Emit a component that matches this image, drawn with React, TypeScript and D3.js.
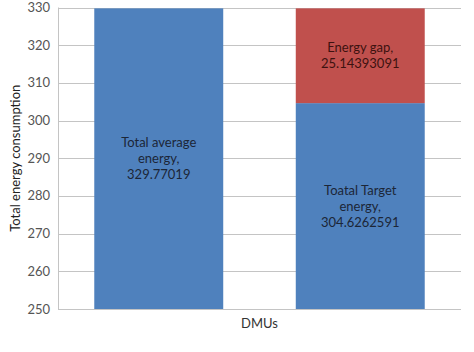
import React, { useEffect, useRef } from 'react';
import * as d3 from 'd3';

// values
const categories = ['Average', 'Target'];
const segmentNames = ['Total average energy', 'Toatal Target energy', 'Energy gap'];
const segmentCategory = [0, 1, 1];
const segmentValues = [329.77019, 304.6262591, 25.14393091];
const segmentLabelLines = [['Total average', 'energy,'], ['Toatal Target', 'energy,'], ['Energy gap,']];
const segmentValueText = ['329.77019', '304.6262591', '25.14393091'];
const segmentColors = ['#4F81BD', '#4F81BD', '#C0504D'];
const labelColors = ['#1c2637', '#1c2637', '#3d1210'];
const yTicks = [250, 260, 270, 280, 290, 300, 310, 320, 330];
const yAxisTitle = 'Total energy consumption';
const xAxisTitle = 'DMUs';

const FONT = 'Lato, "Open Sans", sans-serif';

export default function App() {
    const ref = useRef<SVGSVGElement>(null);

    useEffect(() => {
        document.body.style.margin = '0';
        const svg = d3.select(ref.current);
        svg.selectAll('*').remove();

        const left = 58, right = 461, top = 7.5, bottom = 309;

        const x = d3.scaleBand()
            .domain(categories)
            .range([left, right])
            .paddingInner(0.36)
            .paddingOuter(0.18);

        const y = d3.scaleLinear()
            .domain([250, 330])
            .range([bottom, top])
            .clamp(true);

        // gridlines
        svg.append('g')
            .selectAll('line')
            .data(yTicks)
            .enter()
            .append('line')
            .attr('x1', left)
            .attr('x2', right)
            .attr('y1', d => Math.round(y(d)) + 0.5)
            .attr('y2', d => Math.round(y(d)) + 0.5)
            .attr('stroke', '#c4c4c4')
            .attr('stroke-width', 1);

        // y axis line
        svg.append('line')
            .attr('x1', left + 0.5)
            .attr('x2', left + 0.5)
            .attr('y1', y(330))
            .attr('y2', y(250))
            .attr('stroke', '#c4c4c4');

        // stack segments per category
        const base: number[] = categories.map(() => 0);
        const segs = segmentValues.map((v, i) => {
            const c = segmentCategory[i];
            const y0 = base[c];
            base[c] += v;
            return { i, cat: categories[c], y0, y1: y0 + v };
        });

        svg.append('g')
            .selectAll('rect')
            .data(segs)
            .enter()
            .append('rect')
            .attr('x', d => x(d.cat) as number)
            .attr('width', x.bandwidth())
            .attr('y', d => y(d.y1))
            .attr('height', d => y(d.y0) - y(d.y1))
            .attr('fill', d => segmentColors[d.i]);

        // data labels in the middle of each visible segment
        const lineH = 16;
        segs.forEach(d => {
            const lines = [...segmentLabelLines[d.i], segmentValueText[d.i]];
            const cx = (x(d.cat) as number) + x.bandwidth() / 2;
            const cy = (y(d.y0) + y(d.y1)) / 2;
            const t = svg.append('text')
                .attr('text-anchor', 'middle')
                .attr('font-family', FONT)
                .attr('font-size', 13)
                .attr('fill', labelColors[d.i]);
            lines.forEach((l, k) => {
                t.append('tspan')
                    .attr('x', cx)
                    .attr('y', cy + (k - (lines.length - 1) / 2) * lineH)
                    .attr('dy', '0.35em')
                    .text(l);
            });
        });

        // tick labels
        svg.append('g')
            .selectAll('text')
            .data(yTicks)
            .enter()
            .append('text')
            .attr('x', 50)
            .attr('y', d => y(d))
            .attr('dy', '0.35em')
            .attr('text-anchor', 'end')
            .attr('font-family', FONT)
            .attr('font-size', 13)
            .attr('fill', '#555')
            .text(d => d);

        // axis titles
        svg.append('text')
            .attr('transform', `translate(15, ${(top + bottom) / 2}) rotate(-90)`)
            .attr('text-anchor', 'middle')
            .attr('dy', '0.35em')
            .attr('font-family', FONT)
            .attr('font-size', 13)
            .attr('fill', '#222')
            .text(yAxisTitle);

        svg.append('text')
            .attr('x', (left + right) / 2)
            .attr('y', 323)
            .attr('dy', '0.35em')
            .attr('text-anchor', 'middle')
            .attr('font-family', FONT)
            .attr('font-size', 13)
            .attr('fill', '#333')
            .text(xAxisTitle);
    }, []);

    return (
        <svg ref={ref} width={474} height={352} style={{ display: 'block', background: '#fff' }}
             aria-label={segmentNames.join(', ')} />
    );
}
